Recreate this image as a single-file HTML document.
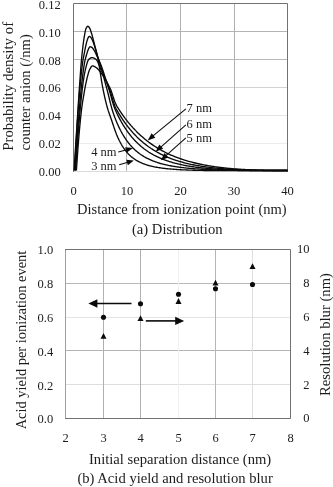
<!DOCTYPE html>
<html><head><meta charset="utf-8"><title>Figure</title>
<style>html,body{margin:0;padding:0;background:#fff}svg{display:block}text{font-family:"Liberation Serif","DejaVu Serif",serif;fill:#1c1c1c}</style></head><body>
<svg width="333" height="487" viewBox="0 0 333 487">
<rect width="333" height="487" fill="#fff"/>
<g fill="none" stroke-width="1">
<line x1="73.5" x2="287.5" y1="31.5" y2="31.5" stroke="#b4b4b4"/>
<line x1="73.5" x2="287.5" y1="59.5" y2="59.5" stroke="#b8b8b8"/>
<line x1="73.5" x2="287.5" y1="87.5" y2="87.5" stroke="#d2d2d2"/>
<line x1="73.5" x2="287.5" y1="115.5" y2="115.5" stroke="#e4e4e4"/>
<line x1="73.5" x2="287.5" y1="143.5" y2="143.5" stroke="#ececec"/>
<line x1="126.5" x2="126.5" y1="3.5" y2="171.0" stroke="#b0b0b0"/>
<line x1="180.5" x2="180.5" y1="3.5" y2="171.0" stroke="#b0b0b0"/>
<line x1="234.5" x2="234.5" y1="3.5" y2="171.0" stroke="#b0b0b0"/>
<line x1="73.5" x2="287.5" y1="171.5" y2="171.5" stroke="#dcdcdc"/>
<path d="M73.5,172.0 V3.5 H287.5 V172.0" stroke="#727272" stroke-width="1"/>
</g>
<g fill="none" stroke="#0a0a0a" stroke-width="1.35" stroke-linejoin="round">
<path d="M74.03,170.45 L74.30,166.80 L74.57,162.61 L74.83,158.43 L75.10,154.26 L75.36,150.10 L75.63,145.95 L75.89,141.81 L76.16,137.69 L76.42,133.57 L76.69,129.47 L76.95,125.36 L77.22,121.22 L77.48,117.07 L77.75,112.92 L78.01,108.77 L78.28,104.64 L78.54,100.55 L78.81,96.50 L79.08,92.50 L79.34,88.57 L79.61,84.72 L79.87,80.96 L80.14,77.24 L80.40,73.49 L80.67,69.81 L80.93,66.28 L81.20,62.97 L81.46,59.98 L81.73,57.29 L81.99,54.70 L82.26,52.20 L82.52,49.80 L82.79,47.51 L83.05,45.32 L83.32,43.24 L83.58,41.28 L83.85,39.43 L84.12,37.70 L84.38,36.10 L84.65,34.59 L84.91,33.11 L85.18,31.69 L85.44,30.42 L85.71,29.35 L85.97,28.56 L86.24,28.04 L86.50,27.57 L86.77,27.14 L87.03,26.78 L87.30,26.50 L87.56,26.32 L87.83,26.25 L88.09,26.31 L88.36,26.47 L88.62,26.71 L88.89,27.02 L89.16,27.37 L89.42,27.74 L89.69,28.14 L89.95,28.68 L90.22,29.33 L90.48,30.08 L90.75,30.87 L91.01,31.68 L91.28,32.49 L91.54,33.33 L91.81,34.21 L92.07,35.12 L92.34,36.07 L92.60,37.05 L92.87,38.05 L93.13,39.08 L93.40,40.11 L93.67,41.16 L93.93,42.22 L94.20,43.28 L94.46,44.34 L94.73,45.39 L94.99,46.43 L95.26,47.46 L95.52,48.49 L95.79,49.51 L96.05,50.54 L96.32,51.57 L96.58,52.63 L96.85,53.71 L97.11,54.82 L97.38,55.96 L97.64,57.14 L97.91,58.37 L98.17,59.65 L98.44,61.02 L98.71,62.49 L98.97,64.04 L99.24,65.65 L99.50,67.33 L99.77,69.04 L100.03,70.79 L100.30,72.56 L100.56,74.34 L100.83,76.11 L101.09,77.87 L101.36,79.60 L101.62,81.29 L101.89,82.92 L102.15,84.49 L102.42,85.98 L102.68,87.39 L102.95,88.74 L103.21,90.07 L103.48,91.38 L103.75,92.66 L104.01,93.92 L104.28,95.16 L104.54,96.37 L104.81,97.55 L105.07,98.71 L105.34,99.84 L105.60,100.95 L105.87,102.03 L106.13,103.08 L106.40,104.10 L106.66,105.09 L106.93,106.06 L107.19,107.02 L107.46,107.97 L107.72,108.90 L107.99,109.80 L108.25,110.66 L108.52,111.47 L108.79,112.26 L109.05,113.03 L109.32,113.78 L109.58,114.53 L109.85,115.27 L110.11,116.01 L110.38,116.75 L110.64,117.50 L110.91,118.25 L111.17,119.01 L111.44,119.78 L111.70,120.55 L111.97,121.33 L112.23,122.12 L112.50,122.91 L112.76,123.71 L113.03,124.50 L113.30,125.30 L113.56,126.09 L113.83,126.88 L114.09,127.67 L114.36,128.44 L114.62,129.21 L114.89,129.97 L115.15,130.71 L115.42,131.44 L115.68,132.15 L115.95,132.85 L116.21,133.54 L116.48,134.21 L116.74,134.87 L117.01,135.51 L117.27,136.14 L117.54,136.76 L117.80,137.37 L118.07,137.96 L118.34,138.54 L118.60,139.11 L118.87,139.67 L119.13,140.22 L119.40,140.75 L119.66,141.28 L119.93,141.80 L120.19,142.30 L120.46,142.80 L120.72,143.28 L120.99,143.76 L121.25,144.23 L121.52,144.68 L121.78,145.13 L122.05,145.57 L122.31,146.01 L122.58,146.43 L122.84,146.84 L123.11,147.25 L123.38,147.65 L123.64,148.04 L123.91,148.43 L124.17,148.80 L124.44,149.17 L124.70,149.54 L124.97,149.89 L125.23,150.24 L125.50,150.58 L125.76,150.92 L126.03,151.25 L126.29,151.57 L126.56,151.89 L126.82,152.20 L127.09,152.51 L127.35,152.81 L127.62,153.10 L127.88,153.39 L128.15,153.67 L128.42,153.95 L128.68,154.22 L128.95,154.49 L129.21,154.76 L129.48,155.01 L129.74,155.27 L130.01,155.52 L130.27,155.76 L130.54,156.00 L130.80,156.24 L131.07,156.47 L131.33,156.70 L131.60,156.92 L131.86,157.14 L132.13,157.36 L132.39,157.57 L132.66,157.77 L132.93,157.98 L133.19,158.18 L133.46,158.38 L133.72,158.57 L133.99,158.76 L134.25,158.95 L134.52,159.13 L134.78,159.31 L135.05,159.49 L135.31,159.66 L135.58,159.83 L135.84,160.00 L136.11,160.16 L136.37,160.33 L136.64,160.49 L136.90,160.64 L137.17,160.80 L137.43,160.95 L137.70,161.10 L138.24,161.39 L139.31,161.95 L140.38,162.47 L141.46,162.95 L142.53,163.41 L143.60,163.83 L144.68,164.23 L145.75,164.60 L146.83,164.95 L147.90,165.27 L148.97,165.58 L150.05,165.87 L151.12,166.14 L152.20,166.39 L153.27,166.63 L154.34,166.85 L155.42,167.06 L156.49,167.26 L157.56,167.45 L158.64,167.63 L159.71,167.79 L160.79,167.95 L161.86,168.10 L162.93,168.24 L164.01,168.37 L165.08,168.49 L166.16,168.61 L167.23,168.72 L168.30,168.83 L169.38,168.93 L170.45,169.02 L171.52,169.11 L172.60,169.20 L173.67,169.28 L174.75,169.36 L175.82,169.43 L176.89,169.50 L177.97,169.56 L179.04,169.63 L180.12,169.69 L181.19,169.74 L182.26,169.80 L183.34,169.85 L184.41,169.90 L185.48,169.94 L186.56,169.99 L187.63,170.03 L188.71,170.07 L189.78,170.11 L190.85,170.15 L191.93,170.18 L193.00,170.21 L194.08,170.25 L195.15,170.28 L196.22,170.31 L197.30,170.33 L198.37,170.36 L199.44,170.39 L200.52,170.41 L201.59,170.43 L202.67,170.45 L203.74,170.45 L204.81,170.45 L205.89,170.45 L206.96,170.45 L208.04,170.45 L209.11,170.45 L210.18,170.45 L211.26,170.45 L212.33,170.45 L213.40,170.45 L214.48,170.45 L215.55,170.45 L216.63,170.45 L217.70,170.45 L218.77,170.45 L219.85,170.45 L220.92,170.45 L222.00,170.45 L223.07,170.45 L224.14,170.45 L225.22,170.45 L226.29,170.45 L227.36,170.45 L228.44,170.45 L229.51,170.45 L230.59,170.45 L231.66,170.45 L232.73,170.45 L233.81,170.45 L234.88,170.45 L235.96,170.45 L237.03,170.45 L238.10,170.45 L239.18,170.45 L240.25,170.45 L241.32,170.45 L242.40,170.45 L243.47,170.45 L244.55,170.45 L245.62,170.45 L246.69,170.45 L247.77,170.45 L248.84,170.45 L249.92,170.45 L250.99,170.45 L252.06,170.45 L253.14,170.45 L254.21,170.45 L255.28,170.45 L256.36,170.45 L257.43,170.45 L258.51,170.45 L259.58,170.45 L260.65,170.45 L261.73,170.45 L262.80,170.45 L263.88,170.45 L264.95,170.45 L266.02,170.45 L267.10,170.45 L268.17,170.45 L269.24,170.45 L270.32,170.45 L271.39,170.45 L272.47,170.45 L273.54,170.45 L274.61,170.45 L275.69,170.45 L276.76,170.45 L277.84,170.45 L278.91,170.45 L279.98,170.45 L281.06,170.45 L282.13,170.45 L283.20,170.45 L284.28,170.45 L285.35,170.45 L286.43,170.45 L287.50,170.45"/>
<path d="M74.57,170.45 L74.83,165.85 L75.10,160.83 L75.36,155.92 L75.62,151.13 L75.89,146.45 L76.15,141.88 L76.41,137.43 L76.67,133.09 L76.94,128.86 L77.20,124.74 L77.46,120.73 L77.73,116.82 L77.99,113.02 L78.25,109.32 L78.52,105.73 L78.78,102.24 L79.04,98.84 L79.30,95.55 L79.57,92.36 L79.83,89.26 L80.09,86.26 L80.36,83.35 L80.62,80.54 L80.88,77.82 L81.15,75.19 L81.41,72.65 L81.67,70.20 L81.94,67.86 L82.20,65.65 L82.46,63.61 L82.72,61.76 L82.99,60.12 L83.25,58.70 L83.51,57.30 L83.78,55.91 L84.04,54.52 L84.30,53.14 L84.57,51.77 L84.83,50.43 L85.09,49.12 L85.35,47.83 L85.62,46.59 L85.88,45.39 L86.14,44.25 L86.41,43.15 L86.67,42.12 L86.93,41.16 L87.20,40.27 L87.46,39.46 L87.72,38.73 L87.99,38.09 L88.25,37.55 L88.51,37.11 L88.77,36.77 L89.04,36.55 L89.30,36.45 L89.56,36.46 L89.83,36.53 L90.09,36.67 L90.35,36.87 L90.62,37.12 L90.88,37.44 L91.14,37.80 L91.40,38.21 L91.67,38.67 L91.93,39.18 L92.19,39.73 L92.46,40.31 L92.72,40.94 L92.98,41.60 L93.25,42.29 L93.51,43.01 L93.77,43.76 L94.04,44.53 L94.30,45.32 L94.56,46.14 L94.82,46.97 L95.09,47.81 L95.35,48.67 L95.61,49.53 L95.88,50.40 L96.14,51.28 L96.40,52.16 L96.67,53.03 L96.93,53.91 L97.19,54.77 L97.45,55.63 L97.72,56.48 L97.98,57.31 L98.24,58.13 L98.51,58.92 L98.77,59.70 L99.03,60.50 L99.30,61.32 L99.56,62.16 L99.82,63.02 L100.09,63.90 L100.35,64.79 L100.61,65.70 L100.87,66.62 L101.14,67.56 L101.40,68.51 L101.66,69.47 L101.93,70.44 L102.19,71.42 L102.45,72.40 L102.72,73.40 L102.98,74.39 L103.24,75.39 L103.50,76.39 L103.77,77.40 L104.03,78.40 L104.29,79.40 L104.56,80.40 L104.82,81.40 L105.08,82.39 L105.35,83.38 L105.61,84.35 L105.87,85.32 L106.14,86.28 L106.40,87.23 L106.66,88.18 L106.92,89.15 L107.19,90.12 L107.45,91.11 L107.71,92.11 L107.98,93.13 L108.24,94.18 L108.50,95.25 L108.77,96.32 L109.03,97.41 L109.29,98.51 L109.55,99.60 L109.82,100.69 L110.08,101.77 L110.34,102.84 L110.61,103.89 L110.87,104.92 L111.13,105.93 L111.40,106.91 L111.66,107.87 L111.92,108.80 L112.18,109.70 L112.45,110.57 L112.71,111.42 L112.97,112.24 L113.24,113.04 L113.50,113.82 L113.76,114.57 L114.03,115.31 L114.29,116.04 L114.55,116.75 L114.82,117.45 L115.08,118.13 L115.34,118.81 L115.60,119.48 L115.87,120.14 L116.13,120.79 L116.39,121.43 L116.66,122.06 L116.92,122.68 L117.18,123.29 L117.45,123.90 L117.71,124.49 L117.97,125.08 L118.23,125.65 L118.50,126.22 L118.76,126.79 L119.02,127.34 L119.29,127.89 L119.55,128.42 L119.81,128.95 L120.08,129.48 L120.34,129.99 L120.60,130.50 L120.87,131.00 L121.13,131.50 L121.39,131.98 L121.65,132.46 L121.92,132.94 L122.18,133.40 L122.44,133.87 L122.71,134.32 L122.97,134.77 L123.23,135.21 L123.50,135.64 L123.76,136.07 L124.02,136.50 L124.28,136.91 L124.55,137.33 L124.81,137.73 L125.07,138.13 L125.34,138.53 L125.60,138.92 L125.86,139.30 L126.13,139.68 L126.39,140.06 L126.65,140.43 L126.92,140.79 L127.18,141.15 L127.44,141.50 L127.70,141.85 L127.97,142.20 L128.23,142.54 L128.49,142.87 L128.76,143.20 L129.02,143.53 L129.28,143.85 L129.55,144.17 L129.81,144.49 L130.07,144.79 L130.33,145.10 L130.60,145.40 L130.86,145.70 L131.12,145.99 L131.39,146.28 L131.65,146.57 L131.91,146.85 L132.18,147.13 L132.44,147.40 L132.70,147.67 L132.97,147.94 L133.23,148.21 L133.49,148.47 L133.75,148.72 L134.02,148.98 L134.28,149.23 L134.54,149.48 L134.81,149.72 L135.07,149.96 L135.33,150.20 L135.60,150.43 L135.86,150.67 L136.12,150.90 L136.38,151.12 L136.65,151.34 L136.91,151.56 L137.17,151.78 L137.44,152.00 L137.70,152.21 L138.24,152.63 L139.31,153.45 L140.38,154.22 L141.46,154.96 L142.53,155.66 L143.60,156.33 L144.68,156.96 L145.75,157.56 L146.83,158.14 L147.90,158.68 L148.97,159.20 L150.05,159.70 L151.12,160.17 L152.20,160.62 L153.27,161.04 L154.34,161.45 L155.42,161.84 L156.49,162.22 L157.56,162.57 L158.64,162.91 L159.71,163.23 L160.79,163.54 L161.86,163.84 L162.93,164.12 L164.01,164.39 L165.08,164.65 L166.16,164.90 L167.23,165.13 L168.30,165.36 L169.38,165.58 L170.45,165.78 L171.52,165.98 L172.60,166.17 L173.67,166.36 L174.75,166.53 L175.82,166.70 L176.89,166.86 L177.97,167.01 L179.04,167.16 L180.12,167.30 L181.19,167.44 L182.26,167.57 L183.34,167.70 L184.41,167.82 L185.48,167.93 L186.56,168.05 L187.63,168.15 L188.71,168.26 L189.78,168.35 L190.85,168.45 L191.93,168.54 L193.00,168.63 L194.08,168.71 L195.15,168.80 L196.22,168.88 L197.30,168.95 L198.37,169.02 L199.44,169.09 L200.52,169.16 L201.59,169.23 L202.67,169.29 L203.74,169.35 L204.81,169.41 L205.89,169.46 L206.96,169.52 L208.04,169.57 L209.11,169.62 L210.18,169.67 L211.26,169.72 L212.33,169.76 L213.40,169.81 L214.48,169.85 L215.55,169.89 L216.63,169.93 L217.70,169.97 L218.77,170.00 L219.85,170.04 L220.92,170.07 L222.00,170.10 L223.07,170.14 L224.14,170.17 L225.22,170.20 L226.29,170.23 L227.36,170.25 L228.44,170.28 L229.51,170.31 L230.59,170.33 L231.66,170.35 L232.73,170.38 L233.81,170.40 L234.88,170.42 L235.96,170.44 L237.03,170.45 L238.10,170.45 L239.18,170.45 L240.25,170.45 L241.32,170.45 L242.40,170.45 L243.47,170.45 L244.55,170.45 L245.62,170.45 L246.69,170.45 L247.77,170.45 L248.84,170.45 L249.92,170.45 L250.99,170.45 L252.06,170.45 L253.14,170.45 L254.21,170.45 L255.28,170.45 L256.36,170.45 L257.43,170.45 L258.51,170.45 L259.58,170.45 L260.65,170.45 L261.73,170.45 L262.80,170.45 L263.88,170.45 L264.95,170.45 L266.02,170.45 L267.10,170.45 L268.17,170.45 L269.24,170.45 L270.32,170.45 L271.39,170.45 L272.47,170.45 L273.54,170.45 L274.61,170.45 L275.69,170.45 L276.76,170.45 L277.84,170.45 L278.91,170.45 L279.98,170.45 L281.06,170.45 L282.13,170.45 L283.20,170.45 L284.28,170.45 L285.35,170.45 L286.43,170.45 L287.50,170.45"/>
<path d="M75.11,170.45 L75.37,166.50 L75.63,162.10 L75.89,157.78 L76.15,153.56 L76.41,149.42 L76.67,145.37 L76.93,141.42 L77.19,137.55 L77.45,133.76 L77.71,130.07 L77.97,126.46 L78.23,122.93 L78.50,119.49 L78.76,116.14 L79.02,112.87 L79.28,109.68 L79.54,106.58 L79.80,103.56 L80.06,100.62 L80.32,97.77 L80.58,94.99 L80.84,92.30 L81.10,89.69 L81.36,87.15 L81.63,84.70 L81.89,82.32 L82.15,80.03 L82.41,77.81 L82.67,75.66 L82.93,73.60 L83.19,71.61 L83.45,69.69 L83.71,67.86 L83.97,66.11 L84.23,64.47 L84.49,62.95 L84.76,61.58 L85.02,60.36 L85.28,59.31 L85.54,58.35 L85.80,57.39 L86.06,56.45 L86.32,55.51 L86.58,54.60 L86.84,53.71 L87.10,52.85 L87.36,52.03 L87.62,51.25 L87.88,50.51 L88.15,49.82 L88.41,49.19 L88.67,48.62 L88.93,48.12 L89.19,47.69 L89.45,47.33 L89.71,47.06 L89.97,46.87 L90.23,46.78 L90.49,46.78 L90.75,46.82 L91.01,46.90 L91.28,47.02 L91.54,47.17 L91.80,47.36 L92.06,47.58 L92.32,47.83 L92.58,48.11 L92.84,48.42 L93.10,48.76 L93.36,49.12 L93.62,49.51 L93.88,49.92 L94.14,50.36 L94.41,50.81 L94.67,51.28 L94.93,51.77 L95.19,52.27 L95.45,52.79 L95.71,53.33 L95.97,53.87 L96.23,54.43 L96.49,54.99 L96.75,55.56 L97.01,56.14 L97.27,56.72 L97.53,57.30 L97.80,57.89 L98.06,58.48 L98.32,59.06 L98.58,59.65 L98.84,60.23 L99.10,60.80 L99.36,61.37 L99.62,61.93 L99.88,62.48 L100.14,63.06 L100.40,63.67 L100.66,64.29 L100.93,64.94 L101.19,65.60 L101.45,66.29 L101.71,66.99 L101.97,67.71 L102.23,68.45 L102.49,69.20 L102.75,69.96 L103.01,70.74 L103.27,71.53 L103.53,72.33 L103.79,73.13 L104.06,73.95 L104.32,74.77 L104.58,75.59 L104.84,76.42 L105.10,77.26 L105.36,78.09 L105.62,78.93 L105.88,79.77 L106.14,80.60 L106.40,81.44 L106.66,82.27 L106.92,83.09 L107.18,83.91 L107.45,84.72 L107.71,85.53 L107.97,86.33 L108.23,87.11 L108.49,87.89 L108.75,88.69 L109.01,89.49 L109.27,90.31 L109.53,91.14 L109.79,92.01 L110.05,92.91 L110.31,93.84 L110.58,94.78 L110.84,95.73 L111.10,96.69 L111.36,97.66 L111.62,98.61 L111.88,99.56 L112.14,100.49 L112.40,101.40 L112.66,102.29 L112.92,103.16 L113.18,104.00 L113.44,104.81 L113.71,105.60 L113.97,106.35 L114.23,107.08 L114.49,107.78 L114.75,108.45 L115.01,109.10 L115.27,109.73 L115.53,110.34 L115.79,110.93 L116.05,111.51 L116.31,112.07 L116.57,112.63 L116.83,113.18 L117.10,113.73 L117.36,114.27 L117.62,114.80 L117.88,115.33 L118.14,115.85 L118.40,116.37 L118.66,116.89 L118.92,117.39 L119.18,117.90 L119.44,118.39 L119.70,118.89 L119.96,119.37 L120.23,119.86 L120.49,120.33 L120.75,120.81 L121.01,121.28 L121.27,121.74 L121.53,122.20 L121.79,122.65 L122.05,123.10 L122.31,123.55 L122.57,123.99 L122.83,124.42 L123.09,124.86 L123.36,125.28 L123.62,125.71 L123.88,126.13 L124.14,126.54 L124.40,126.95 L124.66,127.36 L124.92,127.76 L125.18,128.16 L125.44,128.56 L125.70,128.95 L125.96,129.33 L126.22,129.72 L126.49,130.10 L126.75,130.47 L127.01,130.84 L127.27,131.21 L127.53,131.58 L127.79,131.94 L128.05,132.30 L128.31,132.65 L128.57,133.00 L128.83,133.35 L129.09,133.69 L129.35,134.03 L129.61,134.37 L129.88,134.71 L130.14,135.04 L130.40,135.36 L130.66,135.69 L130.92,136.01 L131.18,136.33 L131.44,136.64 L131.70,136.96 L131.96,137.26 L132.22,137.57 L132.48,137.87 L132.74,138.17 L133.01,138.47 L133.27,138.77 L133.53,139.06 L133.79,139.35 L134.05,139.63 L134.31,139.92 L134.57,140.20 L134.83,140.47 L135.09,140.75 L135.35,141.02 L135.61,141.29 L135.87,141.56 L136.14,141.82 L136.40,142.09 L136.66,142.35 L136.92,142.60 L137.18,142.86 L137.44,143.11 L137.70,143.36 L138.24,143.87 L139.31,144.85 L140.38,145.80 L141.46,146.72 L142.53,147.59 L143.60,148.44 L144.68,149.25 L145.75,150.03 L146.83,150.79 L147.90,151.51 L148.97,152.21 L150.05,152.88 L151.12,153.53 L152.20,154.16 L153.27,154.76 L154.34,155.34 L155.42,155.89 L156.49,156.43 L157.56,156.95 L158.64,157.45 L159.71,157.93 L160.79,158.40 L161.86,158.84 L162.93,159.27 L164.01,159.69 L165.08,160.09 L166.16,160.48 L167.23,160.85 L168.30,161.21 L169.38,161.56 L170.45,161.89 L171.52,162.22 L172.60,162.53 L173.67,162.83 L174.75,163.12 L175.82,163.40 L176.89,163.67 L177.97,163.93 L179.04,164.18 L180.12,164.43 L181.19,164.66 L182.26,164.89 L183.34,165.10 L184.41,165.32 L185.48,165.52 L186.56,165.72 L187.63,165.91 L188.71,166.09 L189.78,166.27 L190.85,166.44 L191.93,166.60 L193.00,166.76 L194.08,166.92 L195.15,167.06 L196.22,167.21 L197.30,167.35 L198.37,167.48 L199.44,167.61 L200.52,167.73 L201.59,167.85 L202.67,167.97 L203.74,168.08 L204.81,168.19 L205.89,168.29 L206.96,168.39 L208.04,168.49 L209.11,168.59 L210.18,168.68 L211.26,168.76 L212.33,168.85 L213.40,168.93 L214.48,169.01 L215.55,169.08 L216.63,169.16 L217.70,169.23 L218.77,169.30 L219.85,169.36 L220.92,169.42 L222.00,169.49 L223.07,169.55 L224.14,169.60 L225.22,169.66 L226.29,169.71 L227.36,169.76 L228.44,169.81 L229.51,169.86 L230.59,169.90 L231.66,169.95 L232.73,169.99 L233.81,170.03 L234.88,170.07 L235.96,170.11 L237.03,170.14 L238.10,170.18 L239.18,170.21 L240.25,170.24 L241.32,170.27 L242.40,170.30 L243.47,170.33 L244.55,170.36 L245.62,170.39 L246.69,170.41 L247.77,170.43 L248.84,170.45 L249.92,170.45 L250.99,170.45 L252.06,170.45 L253.14,170.45 L254.21,170.45 L255.28,170.45 L256.36,170.45 L257.43,170.45 L258.51,170.45 L259.58,170.45 L260.65,170.45 L261.73,170.45 L262.80,170.45 L263.88,170.45 L264.95,170.45 L266.02,170.45 L267.10,170.45 L268.17,170.45 L269.24,170.45 L270.32,170.45 L271.39,170.45 L272.47,170.45 L273.54,170.45 L274.61,170.45 L275.69,170.45 L276.76,170.45 L277.84,170.45 L278.91,170.45 L279.98,170.45 L281.06,170.45 L282.13,170.45 L283.20,170.45 L284.28,170.45 L285.35,170.45 L286.43,170.45 L287.50,170.45"/>
<path d="M75.64,170.45 L75.90,166.91 L76.16,162.89 L76.42,158.94 L76.67,155.05 L76.93,151.24 L77.19,147.49 L77.45,143.82 L77.71,140.21 L77.97,136.68 L78.23,133.22 L78.48,129.83 L78.74,126.52 L79.00,123.29 L79.26,120.13 L79.52,117.04 L79.78,114.04 L80.04,111.11 L80.29,108.26 L80.55,105.50 L80.81,102.81 L81.07,100.21 L81.33,97.69 L81.59,95.25 L81.85,92.90 L82.10,90.63 L82.36,88.45 L82.62,86.35 L82.88,84.34 L83.14,82.43 L83.40,80.60 L83.66,78.86 L83.91,77.21 L84.17,75.65 L84.43,74.18 L84.69,72.81 L84.95,71.53 L85.21,70.35 L85.47,69.24 L85.72,68.16 L85.98,67.11 L86.24,66.09 L86.50,65.12 L86.76,64.20 L87.02,63.33 L87.28,62.52 L87.53,61.79 L87.79,61.12 L88.05,60.54 L88.31,60.05 L88.57,59.65 L88.83,59.36 L89.09,59.13 L89.34,58.91 L89.60,58.70 L89.86,58.50 L90.12,58.33 L90.38,58.16 L90.64,58.02 L90.90,57.90 L91.16,57.80 L91.41,57.72 L91.67,57.68 L91.93,57.66 L92.19,57.67 L92.45,57.69 L92.71,57.73 L92.97,57.79 L93.22,57.87 L93.48,57.96 L93.74,58.06 L94.00,58.17 L94.26,58.30 L94.52,58.43 L94.78,58.58 L95.03,58.73 L95.29,58.89 L95.55,59.05 L95.81,59.23 L96.07,59.41 L96.33,59.64 L96.59,59.94 L96.84,60.30 L97.10,60.72 L97.36,61.18 L97.62,61.68 L97.88,62.22 L98.14,62.79 L98.40,63.39 L98.65,64.00 L98.91,64.63 L99.17,65.27 L99.43,65.91 L99.69,66.55 L99.95,67.18 L100.21,67.80 L100.46,68.40 L100.72,68.97 L100.98,69.52 L101.24,70.07 L101.50,70.63 L101.76,71.18 L102.02,71.73 L102.27,72.29 L102.53,72.85 L102.79,73.41 L103.05,73.97 L103.31,74.53 L103.57,75.10 L103.83,75.66 L104.08,76.23 L104.34,76.80 L104.60,77.38 L104.86,77.96 L105.12,78.54 L105.38,79.12 L105.64,79.71 L105.89,80.30 L106.15,80.89 L106.41,81.49 L106.67,82.10 L106.93,82.70 L107.19,83.31 L107.45,83.93 L107.70,84.55 L107.96,85.17 L108.22,85.80 L108.48,86.43 L108.74,87.07 L109.00,87.72 L109.26,88.39 L109.51,89.08 L109.77,89.78 L110.03,90.51 L110.29,91.29 L110.55,92.11 L110.81,92.98 L111.07,93.87 L111.32,94.79 L111.58,95.72 L111.84,96.65 L112.10,97.58 L112.36,98.50 L112.62,99.41 L112.88,100.29 L113.13,101.15 L113.39,101.98 L113.65,102.78 L113.91,103.54 L114.17,104.27 L114.43,104.96 L114.69,105.62 L114.94,106.25 L115.20,106.84 L115.46,107.40 L115.72,107.94 L115.98,108.46 L116.24,108.95 L116.50,109.43 L116.75,109.90 L117.01,110.35 L117.27,110.81 L117.53,111.25 L117.79,111.70 L118.05,112.14 L118.31,112.58 L118.56,113.01 L118.82,113.44 L119.08,113.87 L119.34,114.30 L119.60,114.72 L119.86,115.14 L120.12,115.55 L120.37,115.96 L120.63,116.37 L120.89,116.78 L121.15,117.18 L121.41,117.58 L121.67,117.98 L121.93,118.37 L122.19,118.77 L122.44,119.15 L122.70,119.54 L122.96,119.92 L123.22,120.30 L123.48,120.68 L123.74,121.05 L124.00,121.42 L124.25,121.79 L124.51,122.16 L124.77,122.52 L125.03,122.88 L125.29,123.24 L125.55,123.60 L125.81,123.95 L126.06,124.30 L126.32,124.64 L126.58,124.99 L126.84,125.33 L127.10,125.67 L127.36,126.01 L127.62,126.34 L127.87,126.68 L128.13,127.01 L128.39,127.33 L128.65,127.66 L128.91,127.98 L129.17,128.30 L129.43,128.62 L129.68,128.93 L129.94,129.25 L130.20,129.56 L130.46,129.87 L130.72,130.17 L130.98,130.48 L131.24,130.78 L131.49,131.08 L131.75,131.38 L132.01,131.67 L132.27,131.97 L132.53,132.26 L132.79,132.55 L133.05,132.83 L133.30,133.12 L133.56,133.40 L133.82,133.68 L134.08,133.96 L134.34,134.23 L134.60,134.51 L134.86,134.78 L135.11,135.05 L135.37,135.32 L135.63,135.59 L135.89,135.85 L136.15,136.11 L136.41,136.37 L136.67,136.63 L136.92,136.89 L137.18,137.14 L137.44,137.40 L137.70,137.65 L138.24,138.16 L139.31,139.17 L140.38,140.15 L141.46,141.10 L142.53,142.02 L143.60,142.91 L144.68,143.78 L145.75,144.62 L146.83,145.44 L147.90,146.23 L148.97,147.00 L150.05,147.74 L151.12,148.47 L152.20,149.17 L153.27,149.85 L154.34,150.51 L155.42,151.15 L156.49,151.77 L157.56,152.38 L158.64,152.96 L159.71,153.53 L160.79,154.08 L161.86,154.62 L162.93,155.14 L164.01,155.64 L165.08,156.13 L166.16,156.60 L167.23,157.06 L168.30,157.51 L169.38,157.94 L170.45,158.36 L171.52,158.77 L172.60,159.16 L173.67,159.55 L174.75,159.92 L175.82,160.28 L176.89,160.63 L177.97,160.97 L179.04,161.30 L180.12,161.61 L181.19,161.92 L182.26,162.22 L183.34,162.51 L184.41,162.80 L185.48,163.07 L186.56,163.33 L187.63,163.59 L188.71,163.84 L189.78,164.08 L190.85,164.32 L191.93,164.54 L193.00,164.76 L194.08,164.97 L195.15,165.18 L196.22,165.38 L197.30,165.57 L198.37,165.76 L199.44,165.94 L200.52,166.12 L201.59,166.29 L202.67,166.46 L203.74,166.61 L204.81,166.77 L205.89,166.92 L206.96,167.06 L208.04,167.20 L209.11,167.34 L210.18,167.47 L211.26,167.60 L212.33,167.72 L213.40,167.84 L214.48,167.96 L215.55,168.07 L216.63,168.18 L217.70,168.28 L218.77,168.38 L219.85,168.48 L220.92,168.57 L222.00,168.66 L223.07,168.75 L224.14,168.84 L225.22,168.92 L226.29,169.00 L227.36,169.07 L228.44,169.15 L229.51,169.22 L230.59,169.29 L231.66,169.35 L232.73,169.42 L233.81,169.48 L234.88,169.54 L235.96,169.60 L237.03,169.65 L238.10,169.71 L239.18,169.76 L240.25,169.81 L241.32,169.85 L242.40,169.90 L243.47,169.94 L244.55,169.98 L245.62,170.02 L246.69,170.06 L247.77,170.10 L248.84,170.13 L249.92,170.17 L250.99,170.20 L252.06,170.23 L253.14,170.26 L254.21,170.29 L255.28,170.32 L256.36,170.35 L257.43,170.37 L258.51,170.40 L259.58,170.42 L260.65,170.44 L261.73,170.45 L262.80,170.45 L263.88,170.45 L264.95,170.45 L266.02,170.45 L267.10,170.45 L268.17,170.45 L269.24,170.45 L270.32,170.45 L271.39,170.45 L272.47,170.45 L273.54,170.45 L274.61,170.45 L275.69,170.45 L276.76,170.45 L277.84,170.45 L278.91,170.45 L279.98,170.45 L281.06,170.45 L282.13,170.45 L283.20,170.45 L284.28,170.45 L285.35,170.45 L286.43,170.45 L287.50,170.45"/>
<path d="M76.39,170.45 L76.64,167.07 L76.90,163.23 L77.16,159.49 L77.41,155.83 L77.67,152.27 L77.92,148.81 L78.18,145.44 L78.43,142.16 L78.69,138.97 L78.94,135.88 L79.20,132.88 L79.45,129.98 L79.71,127.17 L79.97,124.46 L80.22,121.84 L80.48,119.29 L80.73,116.84 L80.99,114.48 L81.24,112.22 L81.50,110.06 L81.75,108.00 L82.01,106.05 L82.26,104.22 L82.52,102.52 L82.78,100.90 L83.03,99.36 L83.29,97.85 L83.54,96.35 L83.80,94.84 L84.05,93.33 L84.31,91.83 L84.56,90.37 L84.82,88.94 L85.07,87.56 L85.33,86.25 L85.59,84.96 L85.84,83.70 L86.10,82.47 L86.35,81.27 L86.61,80.11 L86.86,79.00 L87.12,77.93 L87.37,76.92 L87.63,75.94 L87.88,74.97 L88.14,74.01 L88.40,73.09 L88.65,72.22 L88.91,71.41 L89.16,70.70 L89.42,70.08 L89.67,69.56 L89.93,69.06 L90.18,68.57 L90.44,68.09 L90.69,67.63 L90.95,67.21 L91.21,66.83 L91.46,66.51 L91.72,66.24 L91.97,66.04 L92.23,65.93 L92.48,65.89 L92.74,65.91 L92.99,65.95 L93.25,66.01 L93.50,66.09 L93.76,66.19 L94.02,66.30 L94.27,66.43 L94.53,66.56 L94.78,66.71 L95.04,66.86 L95.29,67.01 L95.55,67.17 L95.80,67.33 L96.06,67.48 L96.32,67.65 L96.57,67.84 L96.83,68.05 L97.08,68.27 L97.34,68.50 L97.59,68.75 L97.85,69.01 L98.10,69.28 L98.36,69.56 L98.61,69.85 L98.87,70.16 L99.13,70.46 L99.38,70.78 L99.64,71.10 L99.89,71.43 L100.15,71.76 L100.40,72.09 L100.66,72.42 L100.91,72.76 L101.17,73.09 L101.42,73.43 L101.68,73.77 L101.94,74.12 L102.19,74.47 L102.45,74.83 L102.70,75.20 L102.96,75.57 L103.21,75.95 L103.47,76.34 L103.72,76.73 L103.98,77.13 L104.23,77.53 L104.49,77.94 L104.75,78.36 L105.00,78.78 L105.26,79.21 L105.51,79.64 L105.77,80.08 L106.02,80.52 L106.28,80.97 L106.53,81.42 L106.79,81.88 L107.04,82.34 L107.30,82.81 L107.56,83.28 L107.81,83.76 L108.07,84.24 L108.32,84.73 L108.58,85.22 L108.83,85.71 L109.09,86.21 L109.34,86.72 L109.60,87.22 L109.85,87.74 L110.11,88.28 L110.37,88.85 L110.62,89.43 L110.88,90.04 L111.13,90.70 L111.39,91.41 L111.64,92.15 L111.90,92.92 L112.15,93.71 L112.41,94.52 L112.66,95.33 L112.92,96.15 L113.18,96.96 L113.43,97.76 L113.69,98.54 L113.94,99.30 L114.20,100.04 L114.45,100.75 L114.71,101.44 L114.96,102.09 L115.22,102.71 L115.47,103.30 L115.73,103.86 L115.99,104.40 L116.24,104.91 L116.50,105.39 L116.75,105.86 L117.01,106.30 L117.26,106.74 L117.52,107.16 L117.77,107.57 L118.03,107.98 L118.28,108.38 L118.54,108.79 L118.80,109.18 L119.05,109.58 L119.31,109.98 L119.56,110.37 L119.82,110.76 L120.07,111.14 L120.33,111.53 L120.58,111.91 L120.84,112.29 L121.09,112.66 L121.35,113.04 L121.61,113.41 L121.86,113.78 L122.12,114.15 L122.37,114.51 L122.63,114.88 L122.88,115.24 L123.14,115.59 L123.39,115.95 L123.65,116.30 L123.91,116.65 L124.16,117.00 L124.42,117.35 L124.67,117.69 L124.93,118.04 L125.18,118.38 L125.44,118.71 L125.69,119.05 L125.95,119.38 L126.20,119.71 L126.46,120.04 L126.72,120.37 L126.97,120.70 L127.23,121.02 L127.48,121.34 L127.74,121.66 L127.99,121.98 L128.25,122.29 L128.50,122.61 L128.76,122.92 L129.01,123.23 L129.27,123.53 L129.53,123.84 L129.78,124.14 L130.04,124.44 L130.29,124.74 L130.55,125.04 L130.80,125.34 L131.06,125.63 L131.31,125.92 L131.57,126.21 L131.82,126.50 L132.08,126.79 L132.34,127.07 L132.59,127.36 L132.85,127.64 L133.10,127.92 L133.36,128.20 L133.61,128.47 L133.87,128.75 L134.12,129.02 L134.38,129.29 L134.63,129.56 L134.89,129.83 L135.15,130.09 L135.40,130.36 L135.66,130.62 L135.91,130.88 L136.17,131.14 L136.42,131.40 L136.68,131.66 L136.93,131.91 L137.19,132.16 L137.44,132.42 L137.70,132.67 L138.24,133.18 L139.31,134.21 L140.38,135.20 L141.46,136.17 L142.53,137.11 L143.60,138.03 L144.68,138.93 L145.75,139.80 L146.83,140.66 L147.90,141.49 L148.97,142.30 L150.05,143.08 L151.12,143.85 L152.20,144.60 L153.27,145.33 L154.34,146.04 L155.42,146.74 L156.49,147.41 L157.56,148.07 L158.64,148.71 L159.71,149.34 L160.79,149.95 L161.86,150.54 L162.93,151.12 L164.01,151.69 L165.08,152.24 L166.16,152.77 L167.23,153.30 L168.30,153.81 L169.38,154.30 L170.45,154.79 L171.52,155.26 L172.60,155.72 L173.67,156.16 L174.75,156.60 L175.82,157.03 L176.89,157.44 L177.97,157.84 L179.04,158.23 L180.12,158.62 L181.19,158.99 L182.26,159.35 L183.34,159.71 L184.41,160.05 L185.48,160.38 L186.56,160.71 L187.63,161.03 L188.71,161.34 L189.78,161.64 L190.85,161.93 L191.93,162.21 L193.00,162.49 L194.08,162.76 L195.15,163.02 L196.22,163.28 L197.30,163.53 L198.37,163.77 L199.44,164.00 L200.52,164.23 L201.59,164.45 L202.67,164.67 L203.74,164.88 L204.81,165.08 L205.89,165.28 L206.96,165.47 L208.04,165.66 L209.11,165.84 L210.18,166.02 L211.26,166.19 L212.33,166.35 L213.40,166.52 L214.48,166.67 L215.55,166.82 L216.63,166.97 L217.70,167.11 L218.77,167.25 L219.85,167.39 L220.92,167.52 L222.00,167.64 L223.07,167.77 L224.14,167.88 L225.22,168.00 L226.29,168.11 L227.36,168.22 L228.44,168.32 L229.51,168.42 L230.59,168.52 L231.66,168.62 L232.73,168.71 L233.81,168.80 L234.88,168.88 L235.96,168.96 L237.03,169.04 L238.10,169.12 L239.18,169.19 L240.25,169.26 L241.32,169.33 L242.40,169.39 L243.47,169.46 L244.55,169.52 L245.62,169.57 L246.69,169.63 L247.77,169.68 L248.84,169.73 L249.92,169.78 L250.99,169.83 L252.06,169.88 L253.14,169.92 L254.21,169.96 L255.28,170.00 L256.36,170.04 L257.43,170.08 L258.51,170.11 L259.58,170.15 L260.65,170.18 L261.73,170.21 L262.80,170.24 L263.88,170.27 L264.95,170.30 L266.02,170.33 L267.10,170.35 L268.17,170.38 L269.24,170.40 L270.32,170.43 L271.39,170.45 L272.47,170.45 L273.54,170.45 L274.61,170.45 L275.69,170.45 L276.76,170.45 L277.84,170.45 L278.91,170.45 L279.98,170.45 L281.06,170.45 L282.13,170.45 L283.20,170.45 L284.28,170.45 L285.35,170.45 L286.43,170.45 L287.50,170.45"/>
</g>
<rect x="89" y="146" width="30" height="25" fill="#fff" opacity="0.0"/>
<text x="60.7" y="8.70" font-size="12.5" text-anchor="end">0.12</text>
<text x="60.7" y="36.62" font-size="12.5" text-anchor="end">0.10</text>
<text x="60.7" y="64.53" font-size="12.5" text-anchor="end">0.08</text>
<text x="60.7" y="92.45" font-size="12.5" text-anchor="end">0.06</text>
<text x="60.7" y="120.37" font-size="12.5" text-anchor="end">0.04</text>
<text x="60.7" y="148.28" font-size="12.5" text-anchor="end">0.02</text>
<text x="60.7" y="176.20" font-size="12.5" text-anchor="end">0.00</text>
<text x="73.50" y="194.8" font-size="12.5" text-anchor="middle">0</text>
<text x="127.00" y="194.8" font-size="12.5" text-anchor="middle">10</text>
<text x="180.50" y="194.8" font-size="12.5" text-anchor="middle">20</text>
<text x="234.00" y="194.8" font-size="12.5" text-anchor="middle">30</text>
<text x="287.50" y="194.8" font-size="12.5" text-anchor="middle">40</text>
<text x="77.0" y="214.2" font-size="15" textLength="209.6" lengthAdjust="spacingAndGlyphs">Distance from ionization point (nm)</text>
<text x="132.0" y="234.4" font-size="15" textLength="90.5" lengthAdjust="spacingAndGlyphs">(a) Distribution</text>
<text x="12.7" y="150.8" font-size="15" textLength="129.0" lengthAdjust="spacingAndGlyphs" transform="rotate(-90 12.7 150.8)">Probability density of</text>
<text x="29.8" y="150.4" font-size="15" textLength="116.2" lengthAdjust="spacingAndGlyphs" transform="rotate(-90 29.8 150.4)">counter anion (/nm)</text>
<text x="186.6" y="112.4" font-size="12.5">7 nm</text>
<text x="186.6" y="127.9" font-size="12.5">6 nm</text>
<text x="186.6" y="141.8" font-size="12.5">5 nm</text>
<text x="91.2" y="156.4" font-size="12.5">4 nm</text>
<text x="91.2" y="169.7" font-size="12.5">3 nm</text>
<line x1="185.90" y1="108.90" x2="152.70" y2="136.21" stroke="#0a0a0a" stroke-width="1.05"/>
<polygon points="147.60,140.40 151.63,133.33 155.31,137.81" fill="#0a0a0a"/>
<line x1="185.90" y1="124.80" x2="160.54" y2="147.32" stroke="#0a0a0a" stroke-width="1.05"/>
<polygon points="155.60,151.70 159.36,144.49 163.21,148.82" fill="#0a0a0a"/>
<line x1="185.90" y1="137.90" x2="165.72" y2="155.91" stroke="#0a0a0a" stroke-width="1.05"/>
<polygon points="160.80,160.30 164.54,153.08 168.40,157.40" fill="#0a0a0a"/>
<line x1="118.30" y1="152.10" x2="126.84" y2="149.72" stroke="#0a0a0a" stroke-width="1.05"/>
<polygon points="133.00,148.00 126.62,152.69 125.12,147.29" fill="#0a0a0a"/>
<line x1="119.20" y1="164.70" x2="128.03" y2="162.16" stroke="#0a0a0a" stroke-width="1.05"/>
<polygon points="133.80,160.50 127.85,165.13 126.30,159.74" fill="#0a0a0a"/>
<g fill="none" stroke-width="1">
<line x1="65.5" x2="290.5" y1="283.5" y2="283.5" stroke="#b8b8b8"/>
<line x1="65.5" x2="290.5" y1="317.5" y2="317.5" stroke="#e4e4e4"/>
<line x1="65.5" x2="290.5" y1="350.5" y2="350.5" stroke="#b4b4b4"/>
<line x1="65.5" x2="290.5" y1="384.5" y2="384.5" stroke="#dedede"/>
<line x1="103.5" x2="103.5" y1="249.5" y2="418.5" stroke="#b0b0b0"/>
<line x1="140.5" x2="140.5" y1="249.5" y2="418.5" stroke="#b0b0b0"/>
<line x1="178.5" x2="178.5" y1="249.5" y2="418.5" stroke="#f0f0f0"/>
<line x1="215.5" x2="215.5" y1="249.5" y2="418.5" stroke="#b6b6b6"/>
<line x1="252.5" x2="252.5" y1="249.5" y2="418.5" stroke="#dedede"/>
<path d="M65.5,249.5 V418.5" stroke="#a0a0a0"/>
<path d="M65.0,249.5 H290.5 V418.5 H65.0" stroke="#727272"/>
</g>
<circle cx="103.50" cy="317.2" r="2.55" fill="#0a0a0a"/>
<circle cx="140.50" cy="303.7" r="2.55" fill="#0a0a0a"/>
<circle cx="178.50" cy="294.2" r="2.55" fill="#0a0a0a"/>
<circle cx="215.50" cy="288.8" r="2.55" fill="#0a0a0a"/>
<circle cx="252.50" cy="284.5" r="2.55" fill="#0a0a0a"/>
<polygon points="103.50,332.90 100.50,338.80 106.50,338.80" fill="#0a0a0a"/>
<polygon points="140.50,315.20 137.50,321.10 143.50,321.10" fill="#0a0a0a"/>
<polygon points="178.50,298.00 175.50,303.90 181.50,303.90" fill="#0a0a0a"/>
<polygon points="215.50,279.70 212.50,285.60 218.50,285.60" fill="#0a0a0a"/>
<polygon points="252.50,263.20 249.50,269.10 255.50,269.10" fill="#0a0a0a"/>
<line x1="131.5" y1="303.5" x2="96.4" y2="303.5" stroke="#0a0a0a" stroke-width="1.6"/>
<polygon points="88.4,303.5 97.4,299.3 97.4,307.7" fill="#0a0a0a"/>
<line x1="145.8" y1="320.9" x2="176.2" y2="320.9" stroke="#0a0a0a" stroke-width="1.6"/>
<polygon points="184.2,320.9 175.2,316.7 175.2,325.09999999999997" fill="#0a0a0a"/>
<text x="53.2" y="254.40" font-size="12.5" text-anchor="end">1.0</text>
<text x="53.2" y="288.20" font-size="12.5" text-anchor="end">0.8</text>
<text x="53.2" y="322.00" font-size="12.5" text-anchor="end">0.6</text>
<text x="53.2" y="355.80" font-size="12.5" text-anchor="end">0.4</text>
<text x="53.2" y="389.60" font-size="12.5" text-anchor="end">0.2</text>
<text x="53.2" y="423.40" font-size="12.5" text-anchor="end">0.0</text>
<text x="309.4" y="253.30" font-size="12.5" text-anchor="end">10</text>
<text x="309.4" y="287.10" font-size="12.5" text-anchor="end">8</text>
<text x="309.4" y="320.90" font-size="12.5" text-anchor="end">6</text>
<text x="309.4" y="354.70" font-size="12.5" text-anchor="end">4</text>
<text x="309.4" y="388.50" font-size="12.5" text-anchor="end">2</text>
<text x="309.4" y="422.30" font-size="12.5" text-anchor="end">0</text>
<text x="65.50" y="441.7" font-size="12.5" text-anchor="middle">2</text>
<text x="103.50" y="441.7" font-size="12.5" text-anchor="middle">3</text>
<text x="140.50" y="441.7" font-size="12.5" text-anchor="middle">4</text>
<text x="178.50" y="441.7" font-size="12.5" text-anchor="middle">5</text>
<text x="215.50" y="441.7" font-size="12.5" text-anchor="middle">6</text>
<text x="252.50" y="441.7" font-size="12.5" text-anchor="middle">7</text>
<text x="290.50" y="441.7" font-size="12.5" text-anchor="middle">8</text>
<text x="89.0" y="464.2" font-size="15" textLength="182.2" lengthAdjust="spacingAndGlyphs">Initial separation distance (nm)</text>
<text x="77.4" y="483.2" font-size="15" textLength="195.4" lengthAdjust="spacingAndGlyphs">(b) Acid yield and resolution blur</text>
<text x="25.7" y="429.3" font-size="15" textLength="178.6" lengthAdjust="spacingAndGlyphs" transform="rotate(-90 25.7 429.3)">Acid yield per ionization event</text>
<text x="330.4" y="396.0" font-size="15" textLength="123.0" lengthAdjust="spacingAndGlyphs" transform="rotate(-90 330.4 396.0)">Resolution blur (nm)</text>
</svg></body></html>
